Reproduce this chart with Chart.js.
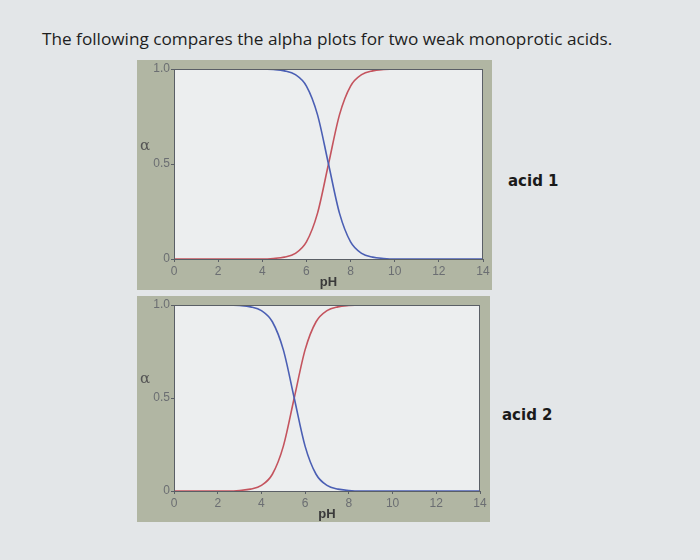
<!DOCTYPE html>
<html>
<head>
<meta charset="utf-8">
<script src="https://cdn.jsdelivr.net/npm/chart.js@4.4.1/dist/chart.umd.min.js"></script>
<style>
  html, body { margin:0; padding:0; }
  body { width:700px; height:560px; background:#e3e6e8; position:relative; overflow:hidden; font-family:"Open Sans", sans-serif; }
  #title { position:absolute; left:42px; top:27px; font-size:17.2px; color:#1e1e1e; white-space:nowrap; }
  .frame { position:absolute; background:#b1b6a3; }
  .frame canvas { position:absolute; left:0; top:0; }
  .alpha { position:absolute; font-family:"DejaVu Serif", serif; font-size:15px; color:#555; }
  .lbl { position:absolute; font-family:"DejaVu Sans", sans-serif; font-weight:bold; font-size:15px; color:#1a1a1a; white-space:nowrap; }
</style>
</head>
<body>
<div id="title">The following compares the alpha plots for two weak monoprotic acids.</div>
<div class="frame" id="f1" style="left:137px; top:60px; width:355px; height:230px;"><canvas id="c1"></canvas></div>
<div class="frame" id="f2" style="left:137px; top:296px; width:353px; height:226px;"><canvas id="c2"></canvas></div>
<div class="alpha" style="left:140px; top:136px;">α</div>
<div class="alpha" style="left:140px; top:369px;">α</div>
<div class="lbl" style="left:508px; top:172px;">acid 1</div>
<div class="lbl" style="left:502px; top:406px;">acid 2</div>
<script>
// pH grid
const pH = [0,0.5,1,1.5,2,2.5,3,3.5,4,4.5,5,5.5,6,6.5,7,7.5,8,8.5,9,9.5,10,10.5,11,11.5,12,12.5,13,13.5,14];
// acid 1 (HA fraction blue, A- fraction red)
const acid1HA = [1,1,1,1,1,1,1,1,1,0.997,0.99,0.97,0.91,0.76,0.50,0.24,0.09,0.03,0.01,0.003,0,0,0,0,0,0,0,0,0];
const acid1A  = [0,0,0,0,0,0,0,0,0,0.003,0.01,0.03,0.09,0.24,0.50,0.76,0.91,0.97,0.99,0.997,1,1,1,1,1,1,1,1,1];
// acid 2
const acid2HA = [1,1,1,1,1,1,0.997,0.99,0.97,0.91,0.76,0.50,0.24,0.09,0.03,0.01,0.003,0,0,0,0,0,0,0,0,0,0,0,0];
const acid2A  = [0,0,0,0,0,0,0.003,0.01,0.03,0.09,0.24,0.50,0.76,0.91,0.97,0.99,0.997,1,1,1,1,1,1,1,1,1,1,1,1];
const xTicks = [0,2,4,6,8,10,12,14];
const yTicks = [0,0.5,1];

const BLUE = '#4b5fb4', RED = '#c4545e';

const boxPlugin = {
  id:'box',
  beforeDraw(chart){
    const {ctx, chartArea:a} = chart;
    ctx.save();
    ctx.fillStyle = '#eceeef';
    ctx.fillRect(a.left, a.top, a.right-a.left, a.bottom-a.top);
    ctx.restore();
  },
  afterDraw(chart){
    const {ctx, chartArea:a} = chart;
    ctx.save();
    ctx.strokeStyle = '#5a5f66';
    ctx.lineWidth = 1;
    ctx.strokeRect(a.left+0.5, a.top+0.5, a.right-a.left-1, a.bottom-a.top);
    ctx.restore();
  }
};

function pts(ys){ return pH.map((x,i)=>({x:x, y:ys[i]})); }

function make(id, ha, a, padRight){
  const cv = document.getElementById(id);
  return new Chart(cv, {
    type:'line',
    data:{ datasets:[
      {data:pts(ha), borderColor:BLUE, borderWidth:1.6, pointRadius:0, cubicInterpolationMode:'monotone', fill:false},
      {data:pts(a), borderColor:RED, borderWidth:1.6, pointRadius:0, cubicInterpolationMode:'monotone', fill:false}
    ]},
    options:{
      responsive:false, animation:false, maintainAspectRatio:false,
      layout:{ padding:{ left:0, top:9, right:padRight, bottom:0 } },
      plugins:{ legend:{display:false}, tooltip:{enabled:false} },
      scales:{
        x:{ type:'linear', min:0, max:14,
            afterBuildTicks(s){ s.ticks = xTicks.map(v=>({value:v})); },
            grid:{ display:true, drawOnChartArea:false, tickLength:3, color:'#5a5f66' },
            border:{ display:false },
            ticks:{ color:'#6b6e72', font:{family:'Liberation Sans', size:12}, padding:2, maxRotation:0, autoSkip:false },
            title:{ display:true, text:'pH', color:'#3a3a3a', font:{family:'Liberation Sans', size:13, weight:'bold'}, padding:{top:0,bottom:0} },
            afterFit(s){ s.height = 31; }
        },
        y:{ type:'linear', min:0, max:1,
            afterBuildTicks(s){ s.ticks = yTicks.map(v=>({value:v})); },
            grid:{ display:true, drawOnChartArea:false, tickLength:3, color:'#5a5f66' },
            border:{ display:false },
            ticks:{ color:'#6b6e72', font:{family:'Liberation Sans', size:12}, padding:1,
                    callback:(v)=> v===0 ? '0' : v.toFixed(1) },
            afterFit(s){ s.width = 37; }
        }
      }
    },
    plugins:[boxPlugin]
  });
}
(function(){
  const c1 = document.getElementById('c1'); c1.width=355; c1.height=230; c1.style.width='355px'; c1.style.height='230px';
  const c2 = document.getElementById('c2'); c2.width=353; c2.height=226; c2.style.width='353px'; c2.style.height='226px';
})();
make('c1', acid1HA, acid1A, 9);
make('c2', acid2HA, acid2A, 10);
</script>
</body>
</html>
